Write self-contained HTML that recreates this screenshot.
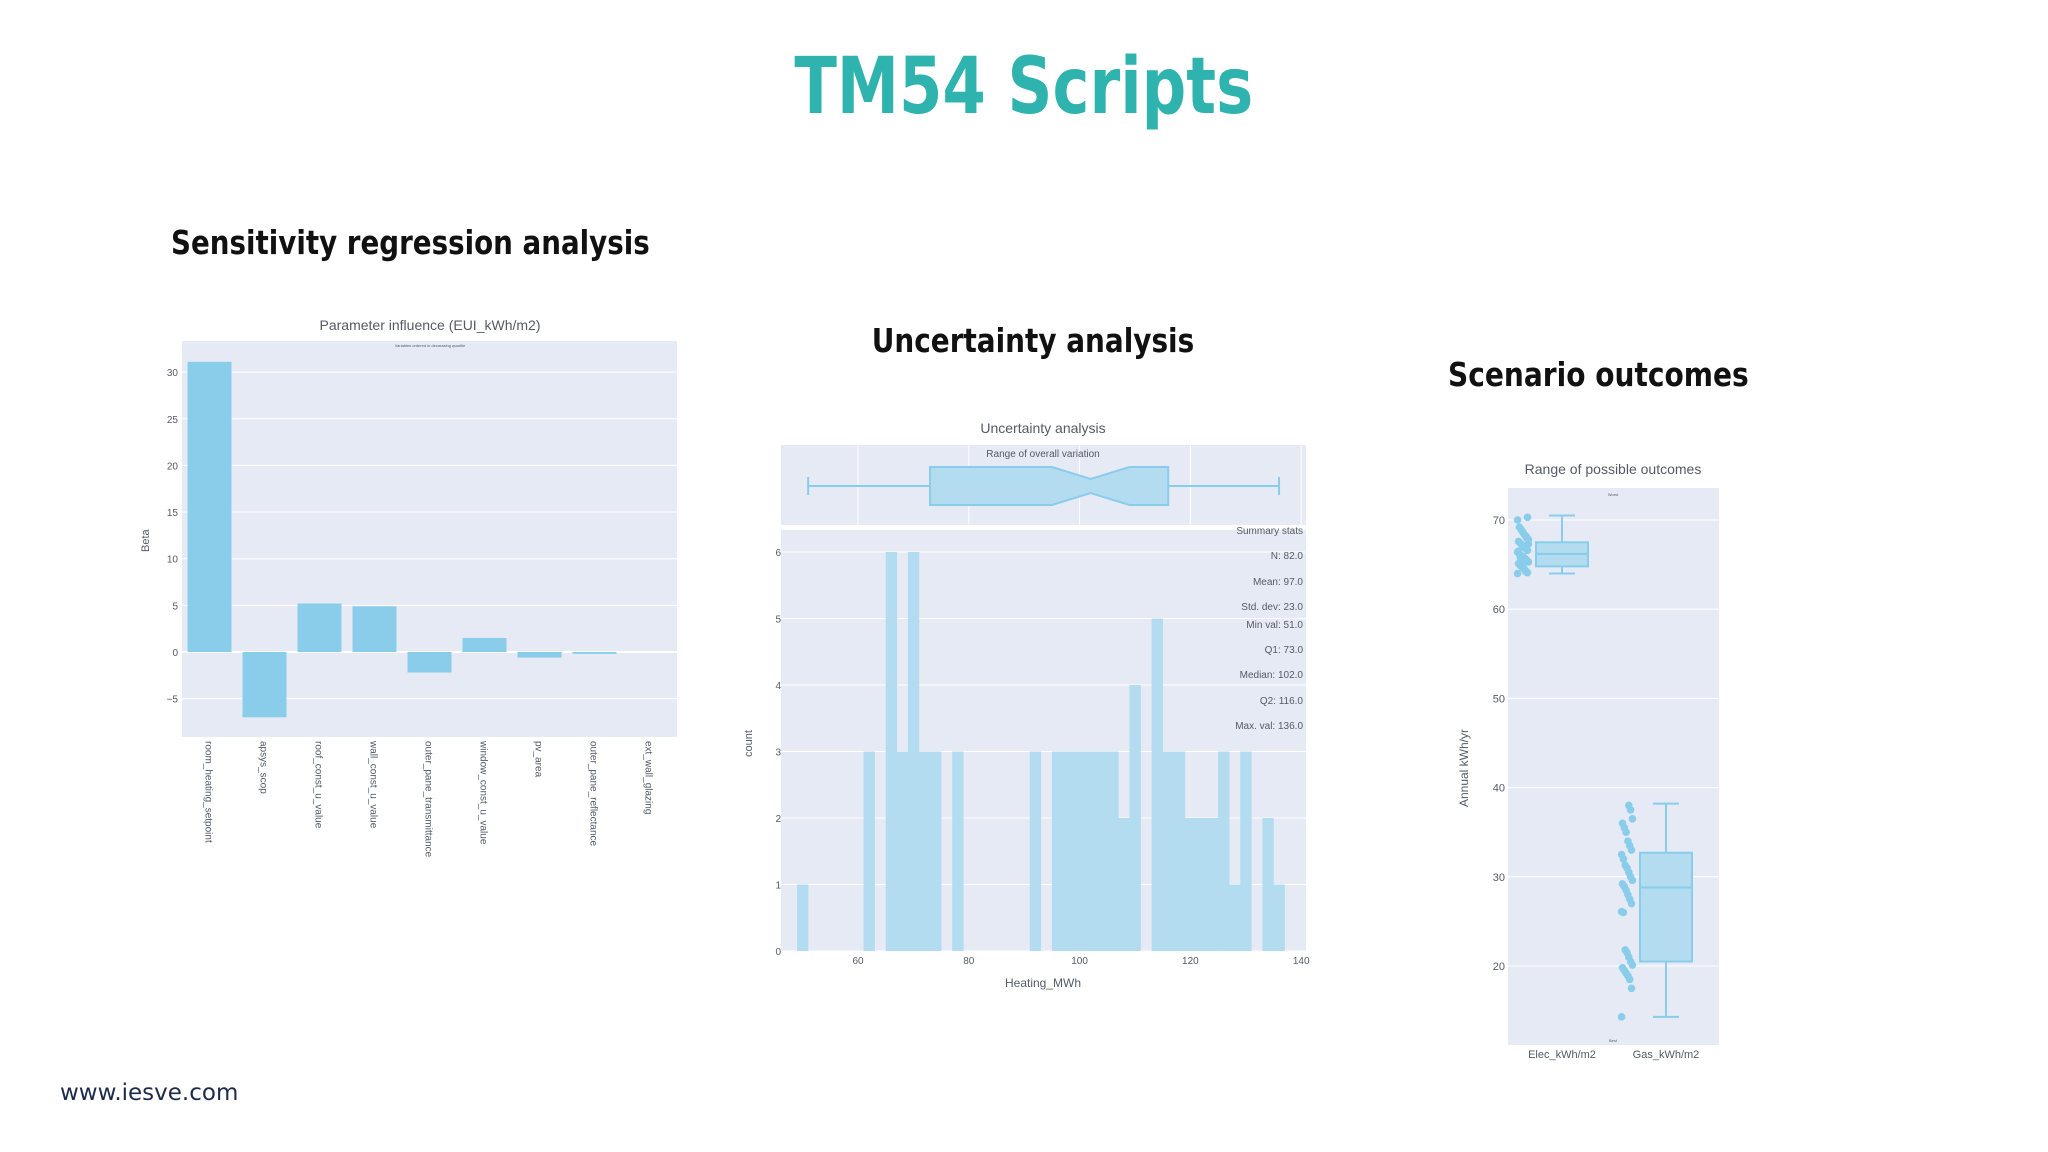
<!DOCTYPE html>
<html><head><meta charset="utf-8"><style>
html,body{margin:0;padding:0;background:#fff;}
body{width:2048px;height:1152px;overflow:hidden;position:relative;font-family:"Liberation Sans",sans-serif;}
.h{position:absolute;font-weight:bold;color:#111;font-family:"DejaVu Sans","Liberation Sans",sans-serif;white-space:nowrap;}
</style></head><body>
<div class="h" style="left:0;width:2048px;text-align:center;top:42px;font-size:78px;color:#2fb3ae;transform:scaleX(0.8);transform-origin:1023px 0;">TM54 Scripts</div>
<div class="h" style="left:171px;top:223px;font-size:33px;transform:scaleX(0.84);transform-origin:0 0;">Sensitivity regression analysis</div>
<div class="h" style="left:0;width:2066px;text-align:center;top:321px;font-size:33px;transform:scaleX(0.845);transform-origin:1033px 0;">Uncertainty analysis</div>
<div class="h" style="left:1448px;top:355px;font-size:33px;transform:scaleX(0.85);transform-origin:0 0;">Scenario outcomes</div>
<div class="h" style="left:60px;top:1080px;font-size:23px;font-weight:normal;color:#1d2a4a;">www.iesve.com</div>
<svg id="s" width="2048" height="1152" style="position:absolute;left:0;top:0"></svg>
<script>
// Chart 1 data
const sensCats=["room_heating_setpoint","apsys_scop","roof_const_u_value","wall_const_u_value","outer_pane_transmittance","window_const_u_value","pv_area","outer_pane_reflectance","ext_wall_glazing"];
const sensVals=[31.1,-7.0,5.2,4.9,-2.2,1.5,-0.6,-0.2,0.0];
const sensTicks=[-5,0,5,10,15,20,25,30];
// Chart 2 data
const histBinStart=[49,61,65,67,69,71,73,77,91,95,97,99,101,103,105,107,109,113,115,117,119,121,123,125,127,129,133,135];
const histCounts=[1,3,6,3,6,3,3,3,3,3,3,3,3,3,3,2,4,5,3,3,2,2,2,3,1,3,2,1];
const histBinWidth=2;
const histXTicks=[60,80,100,120,140];
const histYTicks=[0,1,2,3,4,5,6];
const boxStats=[51,73,102,116,136]; // min,q1,median,q3,max
const notch=[95,109];
const statLabels=["Summary stats","N: 82.0","Mean: 97.0","Std. dev: 23.0","Min val: 51.0","Q1: 73.0","Median: 102.0","Q2: 116.0","Max. val: 136.0"];
// Chart 3 data
const outCats=["Elec_kWh/m2","Gas_kWh/m2"];
const outBoxes=[[64.0,64.8,66.2,67.5,70.5],[14.3,20.5,28.8,32.7,38.2]];
const elecPts=[64.0,64.1,64.3,64.5,64.7,64.9,65.1,65.3,65.5,65.7,65.9,66.0,66.2,66.4,66.6,66.8,67.0,67.2,67.4,67.6,67.8,68.0,68.3,68.6,68.9,69.2,70.0,70.3,64.2,64.6,65.0,65.8,66.5,67.3,68.1];
const gasPts=[14.3,17.5,18.5,18.9,19.2,19.5,19.8,20.1,20.5,21.0,21.5,21.8,26.0,26.1,27.0,27.5,28.0,28.5,28.9,29.2,29.6,30.0,30.5,31.0,31.3,32.0,32.5,33.0,33.5,34.0,35.0,35.5,36.0,36.5,37.5,38.0];
const yTicks3=[20,30,40,50,60,70];

const S=document.getElementById('s');const NS='http://www.w3.org/2000/svg';
function el(t,a,txt){const e=document.createElementNS(NS,t);for(const k in a)e.setAttribute(k,a[k]);if(txt!==undefined)e.textContent=txt;S.appendChild(e);return e;}
const G='#555a66',BG='#e6eaf5',BAR='#89cdea',HB='#b4dcf0';

// ---- Chart 1 ----
{const x0=182,x1=677,y0=341,y1=737;const y=v=>652-v*9.33;const step=(x1-x0)/sensCats.length;
let e=el('rect',{x:x0,y:y0,width:x1-x0,height:y1-y0,fill:BG});
sensTicks.forEach(t=>{let g=el('line',{x1:x0,x2:x1,y1:y(t),y2:y(t),stroke:'#fff','stroke-width':t===0?2:1});
let l=el('text',{x:x0-4,y:y(t)+4,'text-anchor':'end','font-size':10,fill:G},t===0?'0':(t<0?'−'+(-t):t));});
sensVals.forEach((v,i)=>{const cx=x0+step*(i+.5);let b=el('rect',{x:cx-22,y:Math.min(y(v),y(0)),width:44,height:Math.abs(y(v)-y(0)),fill:BAR});
let t=el('text',{transform:`translate(${cx-4},741) rotate(90)`,'font-size':10,fill:G},sensCats[i]);});
e=el('text',{x:430,y:330,'text-anchor':'middle','font-size':14,fill:G},'Parameter influence (EUI_kWh/m2)');
e=el('text',{x:430,y:347,'text-anchor':'middle','font-size':4,fill:G},'Variables ordered in decreasing quartile');
e=el('text',{transform:'translate(149,552) rotate(-90)','font-size':11,fill:G},'Beta');}

// ---- Chart 2 ----
{const x0=781,x1=1306;const x=v=>858+(v-60)*5.54;const y=c=>951-c*66.5;
let e=el('rect',{x:x0,y:445,width:x1-x0,height:80,fill:BG});
e=el('rect',{x:x0,y:530,width:x1-x0,height:421,fill:BG});
histXTicks.forEach(t=>{let g=el('line',{x1:x(t),x2:x(t),y1:445,y2:525,stroke:'#fff'});
let l=el('text',{x:x(t),y:964,'text-anchor':'middle','font-size':10,fill:G},t);});
histYTicks.forEach(t=>{let g=el('line',{x1:x0,x2:x1,y1:y(t),y2:y(t),stroke:'#fff'});
let l=el('text',{x:781,y:y(t)+4,'text-anchor':'end','font-size':10,fill:G},t);});
histCounts.forEach((c,i)=>{const a=x(histBinStart[i]),b=x(histBinStart[i]+histBinWidth);let r=el('rect',{x:a,y:y(c),width:b-a+0.3,height:y(0)-y(c),fill:HB});});
const [mn,q1,md,q3,mx]=boxStats;const cy=486;
e=el('path',{d:`M${x(mn)},${cy}H${x(q1)}M${x(q3)},${cy}H${x(mx)}M${x(mn)},${cy-9}V${cy+9}M${x(mx)},${cy-9}V${cy+9}`,stroke:BAR,'stroke-width':2,fill:'none'});
e=el('path',{d:`M${x(q1)},${cy-19}H${x(notch[0])}L${x(md)},${cy-7}L${x(notch[1])},${cy-19}H${x(q3)}V${cy+19}H${x(notch[1])}L${x(md)},${cy+7}L${x(notch[0])},${cy+19}H${x(q1)}Z`,stroke:BAR,'stroke-width':2,fill:HB});
e=el('text',{x:1043,y:433,'text-anchor':'middle','font-size':14,fill:G},'Uncertainty analysis');
e=el('text',{x:1043,y:457,'text-anchor':'middle','font-size':10,fill:G},'Range of overall variation');
const sy=[534,559,585,610,628,653,678,704,729];
statLabels.forEach((s,i)=>{let t=el('text',{x:1303,y:sy[i],'text-anchor':'end','font-size':10,fill:G},s);});
e=el('text',{x:1043,y:987,'text-anchor':'middle','font-size':12,fill:G},'Heating_MWh');
e=el('text',{transform:'translate(752,757) rotate(-90)','font-size':11,fill:G},'count');}

// ---- Chart 3 ----
{const x0=1508,x1=1719,y0=488,y1=1045;const y=v=>966-(v-20)*8.92;const cx=[1562,1666];
let e=el('rect',{x:x0,y:y0,width:x1-x0,height:y1-y0,fill:BG});
yTicks3.forEach(t=>{let g=el('line',{x1:x0,x2:x1,y1:y(t),y2:y(t),stroke:'#fff'});
let l=el('text',{x:1505,y:y(t)+4,'text-anchor':'end','font-size':11,fill:G},t);});
outBoxes.forEach((bx,i)=>{const w=52,c=cx[i];const L=c-w/2;
let p=el('path',{d:`M${c},${y(bx[0])}V${y(bx[1])}M${c},${y(bx[3])}V${y(bx[4])}M${c-13},${y(bx[0])}H${c+13}M${c-13},${y(bx[4])}H${c+13}`,stroke:BAR,'stroke-width':2,fill:'none'});
let r=el('rect',{x:L,y:y(bx[3]),width:w,height:y(bx[1])-y(bx[3]),fill:HB,stroke:BAR,'stroke-width':2});
let m=el('line',{x1:L,x2:L+w,y1:y(bx[2]),y2:y(bx[2]),stroke:BAR,'stroke-width':2});
let l=el('text',{x:c,y:1058,'text-anchor':'middle','font-size':11,fill:G},outCats[i]);});
[[elecPts,1523],[gasPts,1627]].forEach(([pts,px])=>pts.forEach((v,i)=>{const j=((i*37)%13-6)*0.9;let d=el('circle',{cx:px+j,cy:y(v),r:3.8,fill:BAR});}));
e=el('text',{x:1613,y:474,'text-anchor':'middle','font-size':14,fill:G},'Range of possible outcomes');
e=el('text',{x:1613,y:496,'text-anchor':'middle','font-size':4,fill:G},'Worst');
e=el('text',{x:1613,y:1042,'text-anchor':'middle','font-size':4,fill:G},'Best');
e=el('text',{transform:'translate(1468,768) rotate(-90)','font-size':12,fill:G,'text-anchor':'middle'},'Annual kWh/yr');}
</script>
</body></html>
